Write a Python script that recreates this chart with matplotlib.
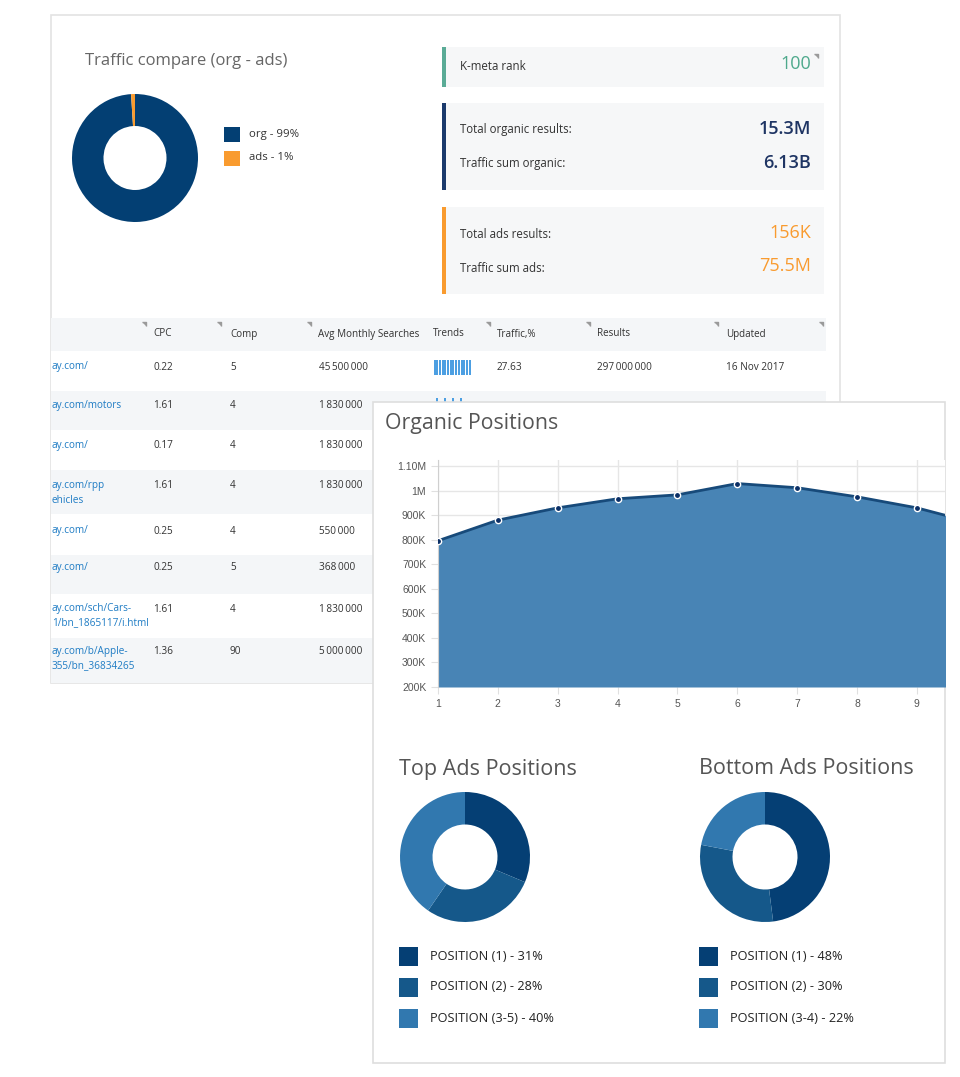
import matplotlib.pyplot as plt
from matplotlib.patches import Rectangle

W, H = 960, 1077
plt.rcParams['font.family'] = ['Open Sans', 'DejaVu Sans']

# traffic compare donut
traffic_labels = ['org - 99%', 'ads - 1%']
traffic_share = [99, 1]
traffic_colors = ['#033f73', '#f99b2f']

# kpi boxes
kpi_rank_label = 'K-meta rank'
kpi_rank_value = '100'
organic_labels = ['Total organic results:', 'Traffic sum organic:']
organic_values = ['15.3M', '6.13B']
ads_labels = ['Total ads results:', 'Traffic sum ads:']
ads_values = ['156K', '75.5M']

# keyword table (visible part)
table_headers = ['CPC', 'Comp', 'Avg Monthly Searches', 'Trends', 'Traffic,%', 'Results', 'Updated']
table_urls = ['ay.com/', 'ay.com/motors', 'ay.com/', 'ay.com/rpp\nehicles', 'ay.com/', 'ay.com/',
              'ay.com/sch/Cars-\n1/bn_1865117/i.html', 'ay.com/b/Apple-\n355/bn_36834265']
table_cpc = ['0.22', '1.61', '0.17', '1.61', '0.25', '0.25', '1.61', '1.36']
table_comp = ['5', '4', '4', '4', '4', '5', '4', '90']
table_searches = ['45\u2009500\u2009000', '1\u2009830\u2009000', '1\u2009830\u2009000', '1\u2009830\u2009000',
                  '550\u2009000', '368\u2009000', '1\u2009830\u2009000', '5\u2009000\u2009000']
first_row_rest = ['27.63', '297\u2009000\u2009000', '16 Nov 2017']
trend_row1 = [1, 1, 1, 1, 1, 1, 1, 1, 1, 1, 1, 1, 1, 1]
trend_row2 = [0.5, 0.6, 0.5, 0.6]

# organic positions area chart
positions = [1, 2, 3, 4, 5, 6, 7, 8, 9, 10]
organic_traffic = [796000, 880000, 930000, 967000, 983000, 1029000, 1012000, 975000, 930000, 866000]
y_ticks = [200000, 300000, 400000, 500000, 600000, 700000, 800000, 900000, 1000000, 1100000]
y_tick_labels = ['200K', '300K', '400K', '500K', '600K', '700K', '800K', '900K', '1M', '1.10M']

# ads position donuts
top_ads_labels = ['POSITION (1) - 31%', 'POSITION (2) - 28%', 'POSITION (3-5) - 40%']
top_ads_share = [31, 28, 40]
bottom_ads_labels = ['POSITION (1) - 48%', 'POSITION (2) - 30%', 'POSITION (3-4) - 22%']
bottom_ads_share = [48, 30, 22]
ads_colors = ['#053f74', '#15588a', '#3178af']

CORNER = [(-1, 1), (1, 1), (1, -1)]

fig = plt.figure(figsize=(W / 100, H / 100), dpi=100)
fig.patch.set_facecolor('white')


def px_axes(x0, y0, x1, y1):
    return fig.add_axes([x0 / W, 1 - y1 / H, (x1 - x0) / W, (y1 - y0) / H])


def donut(ax, values, colors):
    ax.pie(values, colors=colors, startangle=90, counterclock=False, radius=1,
           wedgeprops=dict(width=0.5, edgecolor='none'))
    ax.set_xlim(-1, 1)
    ax.set_ylim(-1, 1)
    ax.set_aspect('auto')
    ax.axis('off')


bg = fig.add_axes([0, 0, 1, 1])
bg.set_xlim(0, W)
bg.set_ylim(H, 0)
bg.axis('off')

# back card
bg.add_patch(Rectangle((51, 15), 789, 668, facecolor='white', edgecolor='#e3e3e3', lw=1.2, zorder=1))
bg.text(85, 61, 'Traffic compare (org - ads)', fontsize=12, color='#666666', va='center', zorder=3)

for i, (lab, col) in enumerate(zip(traffic_labels, traffic_colors)):
    y = 134 + i * 24
    bg.add_patch(Rectangle((224, y - 7.5), 16, 15, facecolor=col, edgecolor='none', zorder=3))
    bg.text(249, y, lab, fontsize=8.2, color='#333333', va='center', zorder=3)

# kpi boxes
boxes = [(47, 87, '#5aab96'), (103, 190, '#1b3a6c'), (207, 294, '#f99b2f')]
for top, bottom, col in boxes:
    bg.add_patch(Rectangle((442, top), 382, bottom - top, facecolor='#f6f7f8', edgecolor='none', zorder=2))
    bg.add_patch(Rectangle((442, top), 4, bottom - top, facecolor=col, edgecolor='none', zorder=3))

bg.text(460, 67, kpi_rank_label, fontsize=8.3, color='#333333', va='center', zorder=3)
bg.text(811, 64, kpi_rank_value, fontsize=13, color='#4ea98c', va='center', ha='right', zorder=3)
bg.scatter([816], [56], marker=CORNER, s=6, color='#9a9a9a', zorder=3)
for i in range(2):
    bg.text(460, 130 + i * 34, organic_labels[i], fontsize=8.3, color='#333333', va='center', zorder=3)
    bg.text(811, 129 + i * 34, organic_values[i], fontsize=13, color='#1e3463', va='center', ha='right',
            fontweight='semibold', zorder=3)
    bg.text(460, 234 + i * 34, ads_labels[i], fontsize=8.3, color='#333333', va='center', zorder=3)
    bg.text(811, 233 + i * 33, ads_values[i], fontsize=13, color='#f99b2f', va='center', ha='right',
            zorder=3)

# table
header_x = [153, 230, 318, 433, 497, 597, 726]
mark_x = [144, 219, 309, 488, 588, 716, 821]
bg.add_patch(Rectangle((51, 318), 775, 33, facecolor='#f4f6f8', edgecolor='none', zorder=2))
for hx, h in zip(header_x, table_headers):
    bg.text(hx, 334, h, fontsize=7.1, color='#333333', va='center', zorder=3)
bg.scatter(mark_x, [324] * len(mark_x), marker=CORNER, s=5, color='#9a9a9a', zorder=3)

row_bounds = [351, 391, 430, 470, 514, 555, 594, 638, 683]
row_text_y = [367, 406, 446, 486, 531, 568, 609, 652]
for i in range(len(table_urls)):
    top, bottom = row_bounds[i], row_bounds[i + 1]
    fc = 'white' if i % 2 == 0 else '#f4f6f8'
    bg.add_patch(Rectangle((51, top), 775, bottom - top, facecolor=fc, edgecolor='none', zorder=2))
    y = row_text_y[i]
    bg.text(52, y - 6, table_urls[i], fontsize=7.2, color='#1f7cc4', va='top', linespacing=1.45, zorder=3)
    bg.text(153, y, table_cpc[i], fontsize=7.2, color='#333333', va='center', zorder=3)
    bg.text(230, y, table_comp[i], fontsize=7.2, color='#333333', va='center', zorder=3)
    bg.text(319, y, table_searches[i], fontsize=7.2, color='#333333', va='center', zorder=3)

for hx, val in zip(header_x[4:], first_row_rest):
    bg.text(hx, 367, val, fontsize=7.2, color='#333333', va='center', zorder=3)
bg.bar([434.5 + 2.7 * k for k in range(len(trend_row1))], [-15 * v for v in trend_row1], bottom=375,
       width=2.0, color='#4c9fe2', zorder=3)
bg.bar([437 + 8 * k for k in range(len(trend_row2))], [20 * v for v in trend_row2], bottom=398,
       width=2.5, color='#4c9fe2', zorder=3)

# front card
bg.add_patch(Rectangle((373, 402), 572, 661, facecolor='white', edgecolor='#dedede', lw=1.2, zorder=10))
bg.text(385, 423, 'Organic Positions', fontsize=15.3, color='#555555', va='center', zorder=11)
bg.text(399, 769, 'Top Ads Positions', fontsize=15.5, color='#555555', va='center', zorder=11)
bg.text(699, 769, 'Bottom Ads Positions', fontsize=15.5, color='#555555', va='center', zorder=11)

for lx, labels in [(399, top_ads_labels), (699, bottom_ads_labels)]:
    for i, (lab, col) in enumerate(zip(labels, ads_colors)):
        y = 956 + i * 31
        bg.add_patch(Rectangle((lx, y - 9.5), 19, 19, facecolor=col, edgecolor='none', zorder=11))
        bg.text(lx + 31, y, lab, fontsize=9.2, color='#222222', va='center', zorder=11)

# donuts
donut(px_axes(72, 94, 198, 222), traffic_share, traffic_colors)
donut(px_axes(400, 792, 530, 922), top_ads_share, ads_colors)
donut(px_axes(700, 792, 830, 922), bottom_ads_share, ads_colors)

# organic positions area
ax = px_axes(438, 460, 945, 687)
ax.fill_between(positions, organic_traffic, 200000, color='#4884b5', lw=0, zorder=2)
ax.plot(positions, organic_traffic, color='#174a7a', lw=2, zorder=3)
ax.plot(positions, organic_traffic, 'o', ms=4.5, mfc='#0b2f66', mec='white', mew=1, zorder=4)
ax.set_xlim(1, 9.47)
ax.set_ylim(200000, 1125000)
ax.set_xticks(positions[:9])
ax.set_yticks(y_ticks)
ax.set_yticklabels(y_tick_labels)
ax.grid(True, color='#e6e6e6', lw=1, zorder=0)
ax.set_axisbelow(True)
for side in ['top', 'right', 'bottom']:
    ax.spines[side].set_visible(False)
ax.spines['left'].set_color('#cfcfcf')
ax.tick_params(axis='both', length=5, color='#e0e0e0', labelsize=7.5, labelcolor='#555555')
for lab in ax.get_xticklabels() + ax.get_yticklabels():
    lab.set_family(['Liberation Sans', 'DejaVu Sans'])

fig.savefig('out.png', dpi=100, facecolor='white')
